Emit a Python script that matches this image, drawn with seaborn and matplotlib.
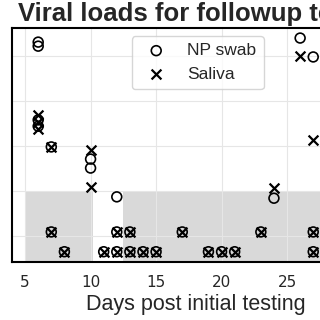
import matplotlib
matplotlib.use("Agg")
import matplotlib.pyplot as plt
import seaborn as sns
import pandas as pd

# --- data (y in tick units, ticks at 1..5) ---
np_days = [6, 6, 6, 6, 7, 7, 8, 10, 10, 11, 12, 12, 12, 13, 13, 14, 15,
           17, 19, 20, 21, 23, 24, 26, 27, 27, 27]
np_load = [5.31, 5.22, 3.58, 3.44, 2.98, 1.09, 0.65, 2.71, 2.51, 0.65,
           1.87, 1.09, 0.65, 1.09, 0.65, 0.65, 0.65,
           1.09, 0.65, 0.65, 0.65, 1.09, 1.84, 5.40, 4.98, 1.09, 0.65]

saliva_days = [6, 6, 6, 7, 7, 8, 10, 10, 11, 12, 12, 13, 13, 14, 15,
               17, 19, 20, 21, 23, 24, 26, 27, 27, 27]
saliva_load = [3.69, 3.53, 3.38, 2.98, 1.09, 0.65, 2.91, 2.09, 0.65,
               1.09, 0.65, 1.09, 0.65, 0.65, 0.65,
               1.09, 0.65, 0.65, 0.65, 1.09, 2.07, 5.00, 3.13, 1.09, 0.65]

# shaded "below detection" windows
shade_start = [5, 12.5]
shade_end = [10.15, 32]
lod_level = 2.0

y_ticks = [1, 2, 3, 4, 5]
x_ticks = [5, 10, 15, 20, 25]

np_df = pd.DataFrame({"day": np_days, "load": np_load})
sal_df = pd.DataFrame({"day": saliva_days, "load": saliva_load})

sns.set_style("whitegrid")
plt.rcParams["font.family"] = ["Liberation Sans", "DejaVu Sans"]

fig = plt.figure(figsize=(3.2, 3.2), dpi=100)
# axes runs off the right side of the figure, as in the cropped original
ax = fig.add_axes([0.0375, 0.181, 1.146, 0.731])

for s, e in zip(shade_start, shade_end):
    ax.fill_between([s, e], 0, lod_level, color="#d9d9d9", lw=0, zorder=0.2)

sns.scatterplot(data=np_df, x="day", y="load", marker="o", s=50,
                facecolors="none", edgecolors="black", linewidth=1.2,
                label="NP swab", ax=ax, zorder=3)
sns.scatterplot(data=sal_df, x="day", y="load", marker="x", s=50,
                color="black", linewidth=1.6, label="Saliva", ax=ax, zorder=3)

ax.set_xlim(4, 32)
ax.set_ylim(0.42, 5.62)
ax.set_xticks(x_ticks)
ax.set_yticks(y_ticks)
ax.set_yticklabels([])
ax.grid(True, color="#e6e6e6", linewidth=0.8)

for side in ["left", "bottom", "top", "right"]:
    ax.spines[side].set_color("black")
    ax.spines[side].set_linewidth(1.5)
ax.tick_params(axis="both", which="major", direction="out", length=6,
               width=1.2, color="black", labelsize=11)
for lbl in ax.get_xticklabels():
    lbl.set_fontfamily("DejaVu Sans")

ax.set_xlabel("Days post initial testing", fontsize=15.5, labelpad=3)
ax.set_ylabel("")
ax.set_title("Viral loads for followup tests", loc="left", x=0.016,
             fontsize=18.5, fontweight="bold", pad=5)

ax.legend(loc="upper left", bbox_to_anchor=(0.327, 0.966), borderaxespad=0,
          fontsize=12.5, frameon=True, handletextpad=0.8)

fig.savefig("out.png", dpi=100)
